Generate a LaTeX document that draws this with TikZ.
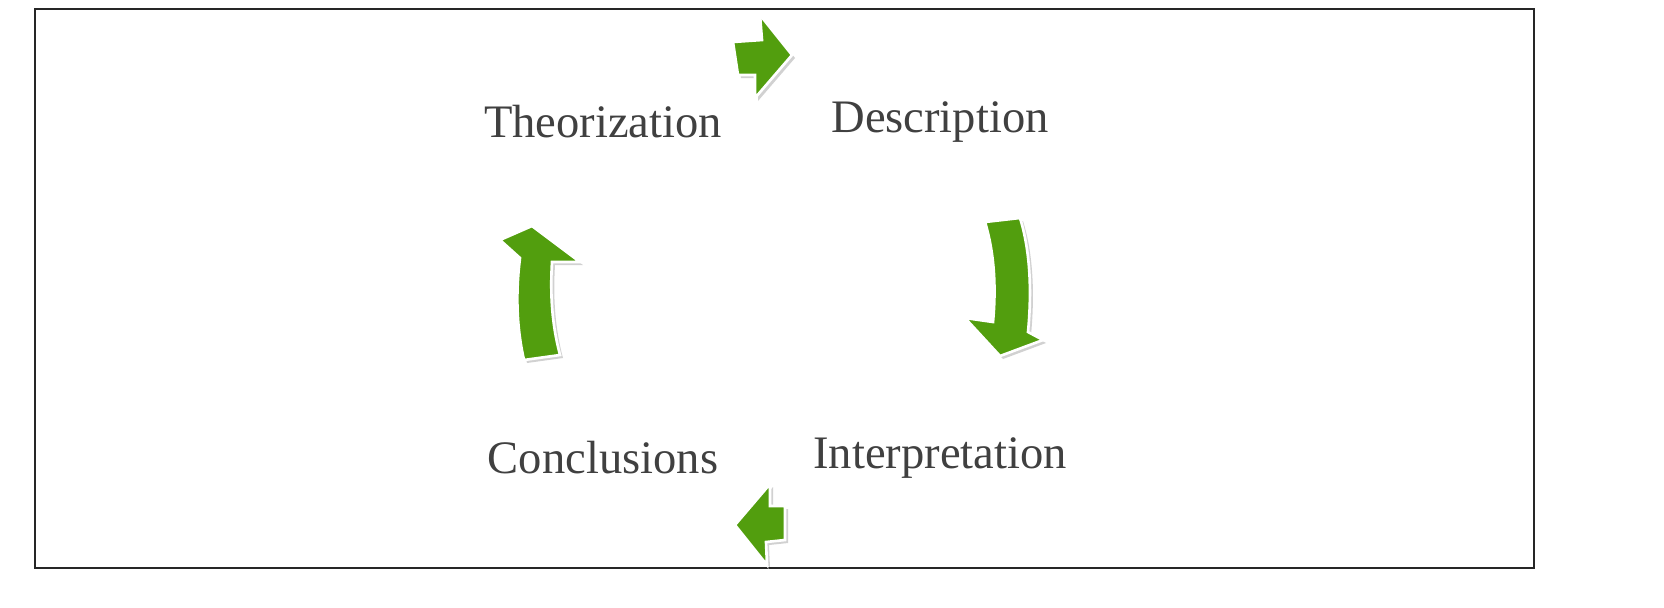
\documentclass[tikz,border=0pt]{standalone}
\usepackage{fontspec}
\setmainfont{Liberation Serif}
\definecolor{arrgreen}{HTML}{529E0E}
\begin{document}
\begin{tikzpicture}[x=0.02128cm,y=-0.02128cm,
  lbl/.style={font=\fontsize{28.2}{32}\selectfont, text=black!75},
  arr/.style={fill=arrgreen, draw=white, line width=1.6pt, line join=miter},
  shd/.style={fill=black, opacity=0.18, draw=none}]
\draw[line width=1.6pt, draw=black!85] (35,9) rectangle (1534,568);
\node[lbl] (theo) at (603,122) {Theorization};
\node[lbl] (desc) at (940,122) {Description};
\node[lbl] (conc) at (603,458) {Conclusions};
\node[lbl] (interp) at (940,458) {Interpretation};
\foreach \s/\o in {shd/3, arr/0}{
\begin{scope}[shift={(\o,\o)}]
\path[\s] (733,42) -- (762,40) -- (760,15) -- (792,55) -- (755,98) -- (755,75) -- (738,75) -- cycle;
\path[\s] (785,540) -- (766,542) -- (767,565) -- (735,525) -- (770,484) -- (770,506) -- (785,506) -- cycle;
\path[\s] (985,222) .. controls (995,255) and (996,290) .. (993,322) -- (965,318) -- (1000,356) -- (1043,340) -- (1028,332) .. controls (1032,290) and (1030,250) .. (1020,218) -- cycle;
\path[\s] (524,360) .. controls (516,325) and (516,290) .. (520,258) -- (500,240) -- (532,226) -- (580,262) -- (552,262) .. controls (550,295) and (552,325) .. (560,355) -- cycle;
\end{scope}
}
\pgfresetboundingbox
\useasboundingbox (0,0) rectangle (1664,607);
\end{tikzpicture}
\end{document}
